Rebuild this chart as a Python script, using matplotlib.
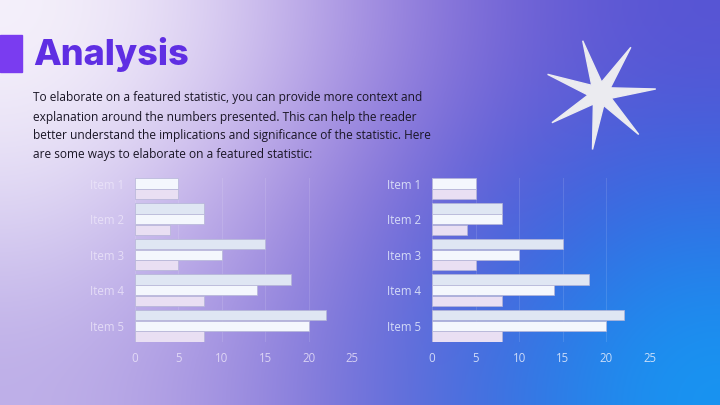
import numpy as np
import matplotlib
matplotlib.use("Agg")
import matplotlib.pyplot as plt
from matplotlib.patches import Polygon, Rectangle

# ---- data ----
categories = ["Item 1", "Item 2", "Item 3", "Item 4", "Item 5"]
series_a = [0, 8, 15, 18, 22]   # top bar (item 1 has none visible)
series_b = [5, 8, 10, 14, 20]   # middle bar
series_c = [5, 4, 5, 8, 8]      # bottom bar
x_ticks = [0, 5, 10, 15, 20, 25]

title = "Analysis"
body_lines = [
    "To elaborate on a featured statistic, you can provide more context and",
    "explanation around the numbers presented. This can help the reader",
    "better understand the implications and significance of the statistic. Here",
    "are some ways to elaborate on a featured statistic:",
]

W, H = 720, 405
fig = plt.figure(figsize=(7.2, 4.05), dpi=100)

# ---- background gradient ----
bg = fig.add_axes([0, 0, 1, 1], zorder=0)
grid = np.array([
    [(246, 242, 251), (222, 210, 243), (168, 146, 226), (116, 100, 213), (88, 84, 212)],
    [(224, 216, 244), (192, 172, 232), (140, 118, 216), (80, 88, 215), (50, 110, 228)],
    [(190, 175, 232), (168, 150, 226), (115, 110, 216), (58, 110, 225), (22, 150, 242)],
], dtype=float) / 255.0
bg.imshow(grid, extent=[0, W, H, 0], interpolation="bicubic", aspect="auto")
bg.set_xlim(0, W)
bg.set_ylim(H, 0)
bg.axis("off")

# decorative rectangle
bg.add_patch(Rectangle((0, 35), 22, 37, color="#7a3cf0", zorder=2))

# star (7 points)
cx, cy = 600, 94
r_out, r_in = 56, 12
verts = []
for k in range(7):
    a = np.deg2rad(108 - k * 360 / 7)
    verts.append((cx + r_out * np.cos(a), cy - r_out * np.sin(a)))
    b = np.deg2rad(108 - (k + 0.5) * 360 / 7)
    verts.append((cx + r_in * np.cos(b), cy - r_in * np.sin(b)))
bg.add_patch(Polygon(verts, closed=True, color="#ebebf0", zorder=2))

# title and body
fig.text(33 / W, 1 - 54 / H, title, fontsize=26, fontweight="heavy",
         family="Inter", color="#5f2ee3", va="center", ha="left")
for i, line in enumerate(body_lines):
    fig.text(33 / W, 1 - (98 + i * 19) / H, line, fontsize=8.6,
             family="Open Sans", color="#1a1626", va="center", ha="left")

# ---- charts ----
ypos = np.arange(len(categories))
off = 0.30
hgt = 0.29
col_a = "#dfe6f3"
col_b = "#f4f7fd"
col_c = "#e9dff3"
edge = "#b4b4d6"

def draw_chart(left_px, right_px, label_color):
    ax = fig.add_axes([left_px / W, 1 - 342 / H, (right_px - left_px) / W, 164 / H], zorder=3)
    ax.patch.set_alpha(0)
    ax.barh(ypos - off, series_a, height=hgt, color=col_a, edgecolor=edge, linewidth=0.5, zorder=3)
    ax.barh(ypos, series_b, height=hgt, color=col_b, edgecolor=edge, linewidth=0.5, zorder=3)
    ax.barh(ypos + off, series_c, height=hgt, color=col_c, edgecolor=edge, linewidth=0.5, zorder=3)
    ax.set_xlim(0, 25)
    ax.set_ylim(4 + off + hgt / 2 + 0.01, -hgt / 2 - 0.01)
    ax.set_xticks(x_ticks)
    ax.set_yticks(ypos)
    ax.set_yticklabels(categories)
    for s in ax.spines.values():
        s.set_visible(False)
    ax.tick_params(length=0, labelsize=8.3, labelcolor=label_color)
    ax.tick_params(axis="x", pad=7)
    ax.tick_params(axis="y", pad=8)
    for lab in ax.get_xticklabels() + ax.get_yticklabels():
        lab.set_family("Open Sans")
    ax.grid(axis="x", color="white", alpha=0.12, linewidth=0.7, zorder=1)
    ax.set_axisbelow(True)
    return ax

draw_chart(135, 352, (0.93, 0.90, 0.98, 0.8))
draw_chart(432, 650, (0.90, 0.93, 0.99, 0.85))

fig.savefig("out.png", dpi=100)
